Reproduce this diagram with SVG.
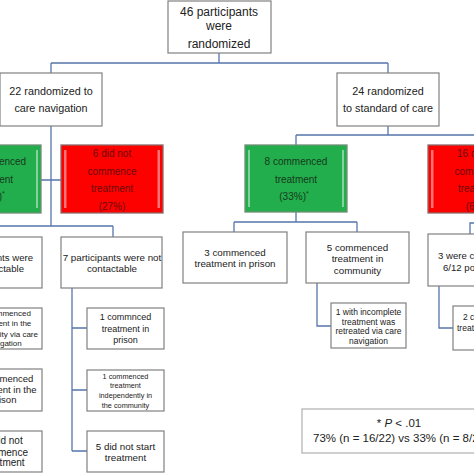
<svg xmlns="http://www.w3.org/2000/svg" width="474" height="474" viewBox="0 0 474 474">
<style>
text{font-family:"Liberation Sans",Arial,sans-serif;fill:#222}
.b{fill:#fff;stroke:#808080;stroke-width:1.2}
.g{fill:#22ae4c;stroke:#6f8f76;stroke-width:1.3}
.r{fill:#fd0000;stroke:#8c6a6a;stroke-width:1.3}
.hl{fill:#fff;opacity:0.45}
.gt{fill:#173a1c;font-size:10px}
.rt{fill:#6e0a0a;font-size:10px}
.m{text-anchor:middle}
.e{text-anchor:end}
.c line,.c path{stroke:#5676ab;stroke-width:1.3;fill:none}
</style>
<rect width="474" height="474" fill="#fff"/>
<g class="c" id="connectors">
<path d="M219 53V63M51 63H388M51 63V73M388 63V73"/>
<path d="M51 126V226M41 180H61M-10 226H113M113 226V237"/>
<path d="M388 126V135M296 135H479M296 135V145M479 135V145"/>
<path d="M296 212V222M234 222H357M234 222V232M357 222V232"/>
<path d="M317 283V326H331"/>
<path d="M72 288V451M72 328H87M72 390H87M72 451H87"/>
<path d="M439 286V328H453"/>
<path d="M470 234V223H480"/>
</g>
<g id="n-top"><rect class="b" x="168" y="1" width="103" height="52"/>
<text class="m" x="219" y="15.5" font-size="12">46 participants</text>
<text class="m" x="219" y="29.5" font-size="12">were</text>
<text class="m" x="219" y="47.5" font-size="12">randomized</text></g>
<g id="n-cn"><rect class="b" x="0" y="73" width="102" height="53"/>
<text class="m" x="51" y="95" font-size="10.8">22 randomized to</text>
<text class="m" x="51" y="112" font-size="10.8">care navigation</text></g>
<g id="n-soc"><rect class="b" x="337" y="73" width="102" height="53"/>
<text class="m" x="388" y="95" font-size="10.8">24 randomized</text>
<text class="m" x="388" y="112" font-size="10.8">to standard of care</text></g>
<g id="n-g1"><rect class="g" x="-61" y="145" width="102" height="68"/>
<rect class="hl" x="36" y="150" width="2" height="58"/>
<text class="gt m" x="-8" y="165">16 commenced</text>
<text class="gt m" x="-8" y="182.5">treatment</text>
<text class="gt m" x="-10" y="200">(73%)<tspan font-size="7" dy="-4">*</tspan></text></g>
<g id="n-r1"><rect class="r" x="61" y="145" width="102" height="68"/>
<rect class="hl" x="64" y="150" width="2.5" height="58"/><rect class="hl" x="157.5" y="150" width="2.5" height="58"/>
<text class="rt m" x="112" y="156.5">6 did not</text>
<text class="rt m" x="112" y="174.5">commence</text>
<text class="rt m" x="112" y="191.5">treatment</text>
<text class="rt m" x="112" y="209.5">(27%)</text></g>
<g id="n-g2"><rect class="g" x="245" y="145" width="102" height="67"/>
<rect class="hl" x="248" y="150" width="2" height="57"/><rect class="hl" x="342" y="150" width="2" height="57"/>
<text class="gt m" x="296" y="165">8 commenced</text>
<text class="gt m" x="296" y="182.5">treatment</text>
<text class="gt m" x="294" y="200">(33%)<tspan font-size="7" dy="-4">*</tspan></text></g>
<g id="n-r2"><rect class="r" x="428" y="145" width="102" height="68"/>
<rect class="hl" x="431" y="150" width="2.5" height="58"/>
<text class="rt m" x="479" y="156.5">16 did not</text>
<text class="rt m" x="479" y="174.5">commence</text>
<text class="rt m" x="479" y="191.5">treatment</text>
<text class="rt m" x="479" y="209.5">(67%)</text></g>
<g id="n-contact"><rect class="b" x="-61" y="237" width="103" height="51"/>
<text class="e" x="33" y="260.5" font-size="9.6">15 participants were</text>
<text class="e" x="24" y="271.5" font-size="9.6">contactable</text></g>
<g id="n-notcontact"><rect class="b" x="61" y="237" width="101" height="51"/>
<text class="m" x="112" y="260.5" font-size="9.8">7 participants were not</text>
<text class="m" x="112" y="271.5" font-size="9.8">contactable</text></g>
<g id="n-a"><rect class="b" x="-35" y="308" width="77" height="41"/>
<text class="m" x="3.5" y="316" font-size="8">12 commenced</text>
<text class="m" x="3.5" y="326" font-size="8">treatment in the</text>
<text class="m" x="3.5" y="337" font-size="8">community via care</text>
<text class="m" x="3.5" y="346" font-size="8">navigation</text></g>
<g id="n-b"><rect class="b" x="-35" y="369" width="77" height="42"/>
<text class="m" x="3.5" y="381.5" font-size="9.5">2 commenced</text>
<text class="m" x="3.5" y="392.5" font-size="9.5">treatment in the</text>
<text class="m" x="3.5" y="402.5" font-size="9.5">prison</text></g>
<g id="n-c"><rect class="b" x="-35" y="431" width="77" height="41"/>
<text class="m" x="3.5" y="443.5" font-size="10">1 did not</text>
<text class="m" x="3.5" y="455.5" font-size="10">commence</text>
<text class="m" x="3.5" y="465.5" font-size="10">treatment</text></g>
<g id="n-d"><rect class="b" x="87" y="308" width="77" height="41"/>
<text class="m" x="125.5" y="320" font-size="9">1 commnced</text>
<text class="m" x="125.5" y="331.5" font-size="9">treatment in</text>
<text class="m" x="125.5" y="343" font-size="9">prison</text></g>
<g id="n-e"><rect class="b" x="87" y="370" width="77" height="41"/>
<text class="m" x="125.5" y="378.5" font-size="7.3">1 commenced</text>
<text class="m" x="125.5" y="387.5" font-size="7.3">treatment</text>
<text class="m" x="125.5" y="397.5" font-size="7.3">independently in</text>
<text class="m" x="125.5" y="407.5" font-size="7.3">the community</text></g>
<g id="n-f"><rect class="b" x="87" y="431" width="77" height="41"/>
<text class="m" x="125.5" y="449.5" font-size="9.8">5 did not start</text>
<text class="m" x="125.5" y="460.5" font-size="9.8">treatment</text></g>
<g id="n-prison"><rect class="b" x="183" y="232" width="104" height="51"/>
<text class="m" x="235" y="255.5" font-size="9.8">3 commenced</text>
<text class="m" x="235" y="266.5" font-size="9.8">treatment in prison</text></g>
<g id="n-comm"><rect class="b" x="306" y="232" width="103" height="51"/>
<text class="m" x="357.5" y="250.5" font-size="9.8">5 commenced</text>
<text class="m" x="357.5" y="261.5" font-size="9.8">treatment in</text>
<text class="m" x="357.5" y="273.5" font-size="9.8">community</text></g>
<g id="n-retreat"><rect class="b" x="331" y="303" width="75" height="45"/>
<text class="m" x="368.5" y="315" font-size="8.5">1 with incomplete</text>
<text class="m" x="368.5" y="324.5" font-size="8.5">treatment was</text>
<text class="m" x="368.5" y="334" font-size="8.5">retreated via care</text>
<text class="m" x="368.5" y="343.5" font-size="8.5">navigation</text></g>
<g id="n-3were"><rect class="b" x="428" y="234" width="102" height="52"/>
<text x="438" y="258.5" font-size="9.6">3 were contactable at</text>
<text x="443" y="270.5" font-size="9.6">6/12 post-release</text></g>
<g id="n-2"><rect class="b" x="453" y="306" width="77" height="44"/>
<text x="463" y="320" font-size="8.5">2 commenced</text>
<text x="457" y="331" font-size="8.5">treatment in prison</text></g>
<g id="n-note"><rect x="302" y="409" width="180" height="44" fill="#fff" stroke="#b0b0b0" stroke-width="1.2"/>
<text class="m" x="399" y="427" font-size="11.5">* <tspan font-style="italic">P</tspan> &lt; .01</text>
<text x="313" y="441.5" font-size="11.5">73% (n = 16/22) vs 33% (n = 8/24)</text></g>
</svg>
